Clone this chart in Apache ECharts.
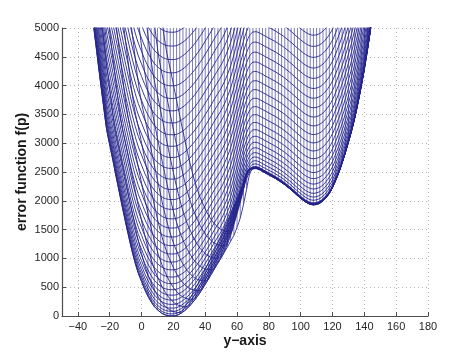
<!DOCTYPE html>
<html><head><meta charset="utf-8">
<script src="https://cdn.jsdelivr.net/npm/echarts@6/dist/echarts.min.js"></script>
<style>html,body{margin:0;padding:0;background:#fff}#c{width:474px;height:355px}</style>
</head><body><div id="c"></div>
<script>
// x-axis tick values (y-axis of the problem)
const xTickValues = [-40,-20,0,20,40,60,80,100,120,140,160,180];

// sample positions along y
const gridY = [-30,-28,-26,-24,-22,-20,-18,-16,-14,-12,-10,-8,-6,-4,-2,0,2,4,6,8,10,12,14,16,18,20,
  22,24,26,28,30,32,34,36,38,40,42,44,46,48,50,52,54,56,58,60,62,64,66,68,70,72,74,76,78,80,
  82,84,86,88,90,92,94,96,98,100,102,104,106,108,110,112,114,116,118,120,122,124,126,128,130,
  132,134,136,138,140,142,144,146];

// lower edge of the mesh (silhouette)
const lowerEdge = [5000,4550,4100,3670,3250,2970,2700,2420,2150,1880,1620,1370,1130,920,740,600,460,345,248,165,108,62,28,10,2,2,
  10,35,70,115,170,232,300,378,460,550,640,735,830,920,1010,1105,1200,1300,1400,1540,1700,1930,2200,2470,2555,2560,2540,2510,2480,2450,
  2420,2390,2355,2320,2280,2235,2190,2140,2090,2045,2000,1965,1940,1930,1938,1960,2000,2060,2135,2230,2360,2500,2660,2830,3020,
  3220,3450,3700,3980,4280,4620,5000,5400];

// profile of the lowest stacked curve (rounded hump)
const stackProfile = [5000,4550,4100,3670,3250,2970,2700,2420,2150,1880,1620,1370,1130,920,740,600,460,345,248,165,108,62,28,10,2,2,
  10,35,70,115,170,232,300,378,460,550,640,735,830,920,1010,1120,1250,1400,1590,1800,2010,2210,2380,2500,2555,2560,2540,2510,2480,2450,
  2420,2390,2355,2320,2280,2235,2190,2140,2090,2045,2000,1965,1940,1930,1938,1960,2000,2060,2135,2230,2360,2500,2660,2830,3020,
  3220,3450,3700,3980,4280,4620,5000,5400];

// vertical offsets of the stacked mesh curves
const stackOffsets = [0,35,80,135,200,275,360,455,560,675,800,935,1075,1220,1370,1525,1685,1850,2020,2195,
  2375,2560,2750,2945,3145,3350,3560,3775,3995,4220,4450,4685,4925,5170];

// crossing curves (other side of the surface): left arm, valley and rising arm up to the hump, [y, f]
const cross1 = [[-25,5060],[-21,4160],[-17,3310],[-13,2760],[-9,2210],[-5,1680],[-1,1190],[3,800],[7,520],[11,308],[15,168],[19,88],[24,60],[28,200],[34,485],[42,920],[50,1400],[58,1910],[63,2240],[66.5,2500]];
const cross2 = [[-21,5160],[-17,4260],[-13,3410],[-9,2860],[-5,2310],[-1,1780],[3,1290],[7,900],[11,620],[15,408],[19,268],[23,188],[28,160],[32,311],[38,615],[46,1090],[54,1605],[61,2085],[64,2295],[66.5,2500]];
const cross3 = [[-17,5290],[-13,4390],[-9,3540],[-5,2990],[-1,2440],[3,1910],[7,1420],[11,1030],[15,750],[19,538],[23,398],[27,318],[32,290],[36,455],[42,785],[50,1290],[57,1775],[62,2140],[65,2365],[66.5,2500]];
const cross4 = [[-13,5440],[-9,4540],[-5,3690],[-1,3140],[3,2590],[7,2060],[11,1570],[15,1180],[19,900],[23,688],[27,548],[31,468],[36,440],[40,620],[46,975],[53,1450],[59,1895],[63,2200],[65,2360],[66.5,2500]];
const cross5 = [[-9,5610],[-5,4710],[-1,3860],[3,3310],[7,2760],[11,2230],[15,1740],[19,1350],[23,1070],[27,858],[31,718],[35,638],[40,610],[44,805],[50,1190],[56,1630],[61,2025],[64,2270],[66.5,2500]];
const cross6 = [[-5,5800],[-1,4900],[3,4050],[7,3500],[11,2950],[15,2420],[19,1930],[23,1540],[27,1260],[31,1048],[35,908],[39,828],[44,800],[48,1012],[53,1355],[58,1745],[62,2085],[65,2340],[66.5,2500]];
const cross7 = [[-1,6000],[3,5100],[7,4250],[11,3700],[15,3150],[19,2620],[23,2130],[27,1740],[31,1460],[35,1248],[39,1108],[43,1028],[48,1000],[52,1235],[56,1540],[60,1875],[63,2145],[65,2330],[66.5,2500]];
const cross8 = [[3,6220],[7,5320],[11,4470],[15,3920],[19,3370],[23,2840],[27,2350],[31,1960],[35,1680],[39,1468],[43,1328],[47,1248],[52,1220],[55,1410],[58,1655],[61,1925],[64,2215],[66.5,2500]];
const cross9 = [[7,6460],[11,5560],[15,4710],[19,4160],[23,3610],[27,3080],[31,2590],[35,2200],[39,1920],[43,1708],[47,1568],[51,1488],[56,1460],[58,1600],[61,1875],[64,2180],[66.5,2500]];
const crossHeads = [cross1,cross2,cross3,cross4,cross5,cross6,cross7,cross8,cross9];
// beyond the hump the crossing curves run along the lowest curve, slightly lifted
const crossTail = [[69,2550],[72,2560],[78,2480],[86,2355],[94,2190],[102,2000],[108,1930],[114,2000],[120,2230],[128,2830],[136,3700],[144,5000]];
const crossTailLift = [0,3,6,9,12,15,18,21,24];

// range of y where the constant-y mesh lines appear
const verticalFrom = 4, verticalTo = 142;
const yMax = 5000;

const curveColor = '#25258c';
const vertColor = '#5050a4';
const font = '"Liberation Sans", Arial, Helvetica, sans-serif';

const series = [];
// white mesh face (hides grid behind the mesh) + silhouette line
series.push({
  type: 'line', data: gridY.map((y, j) => [y, lowerEdge[j]]),
  showSymbol: false, silent: true, smooth: 0.3, lineStyle: {width: 0.9, color: curveColor},
  areaStyle: {color: '#ffffff', opacity: 1, origin: 'end'}, z: 1
});
// constant-y mesh lines
const vData = [];
gridY.forEach((y, j) => { if (y >= verticalFrom && y <= verticalTo) vData.push([y, lowerEdge[j], yMax]); });
series.push({
  type: 'custom', data: vData, silent: true, z: 2, clip: true,
  encode: {x: 0, y: [1, 2]},
  renderItem: (params, api) => {
    const p1 = api.coord([api.value(0), api.value(1)]);
    const p2 = api.coord([api.value(0), api.value(2)]);
    return {type: 'line', shape: {x1: p1[0], y1: p1[1], x2: p2[0], y2: p2[1]},
      style: {stroke: vertColor, lineWidth: 0.75}};
  }
});
// stacked curves
stackOffsets.forEach(c => {
  series.push({
    type: 'line', data: gridY.map((y, j) => [y, stackProfile[j] + c]),
    showSymbol: false, silent: true, smooth: 0.3, z: 3,
    lineStyle: {color: curveColor, width: 0.9}
  });
});
// crossing curves
crossHeads.forEach((head, k) => {
  const data = head.concat(crossTail.map(p => [p[0], p[1] + crossTailLift[k]]));
  series.push({
    type: 'line', data: data, showSymbol: false, silent: true, smooth: 0.4, z: 3,
    lineStyle: {color: curveColor, width: 0.9}
  });
});

const chart = echarts.init(document.getElementById('c'), null, {renderer: 'canvas'});
chart.setOption({
  animation: false,
  backgroundColor: '#ffffff',
  grid: {left: 62, right: 46, top: 28, bottom: 39, containLabel: false, outerBoundsMode: 'none'},
  xAxis: {
    type: 'value', min: -50, max: 180,
    name: 'y\u2212axis', nameLocation: 'middle', nameGap: 18, nameMoveOverlap: false,
    nameTextStyle: {fontFamily: font, fontSize: 14, fontWeight: 'bold', color: '#1a1a1a'},
    axisLine: {show: true, onZero: false, lineStyle: {color: '#4d4d4d', width: 1.2}},
    axisTick: {show: true, inside: true, length: 4, customValues: xTickValues, lineStyle: {color: '#4d4d4d'}},
    axisLabel: {customValues: xTickValues, margin: 5, fontFamily: font, fontSize: 11, color: '#262626',
      formatter: v => String(v).replace('-', '\u2212')},
    splitLine: {show: true, lineStyle: {color: '#b4b4b4', type: [1, 3], width: 1}}
  },
  yAxis: {
    type: 'value', min: 0, max: yMax, interval: 500,
    name: 'error function f(p)', nameLocation: 'middle', nameGap: 33, nameMoveOverlap: false,
    nameTextStyle: {fontFamily: font, fontSize: 14, fontWeight: 'bold', color: '#1a1a1a'},
    axisLine: {show: true, onZero: false, lineStyle: {color: '#4d4d4d', width: 1.2}},
    axisTick: {show: true, inside: true, length: 4, lineStyle: {color: '#4d4d4d'}},
    axisLabel: {margin: 3, fontFamily: font, fontSize: 11, color: '#262626', formatter: v => String(v)},
    splitLine: {show: true, lineStyle: {color: '#b4b4b4', type: [1, 3], width: 1}}
  },
  series: series
});
</script></body></html>
